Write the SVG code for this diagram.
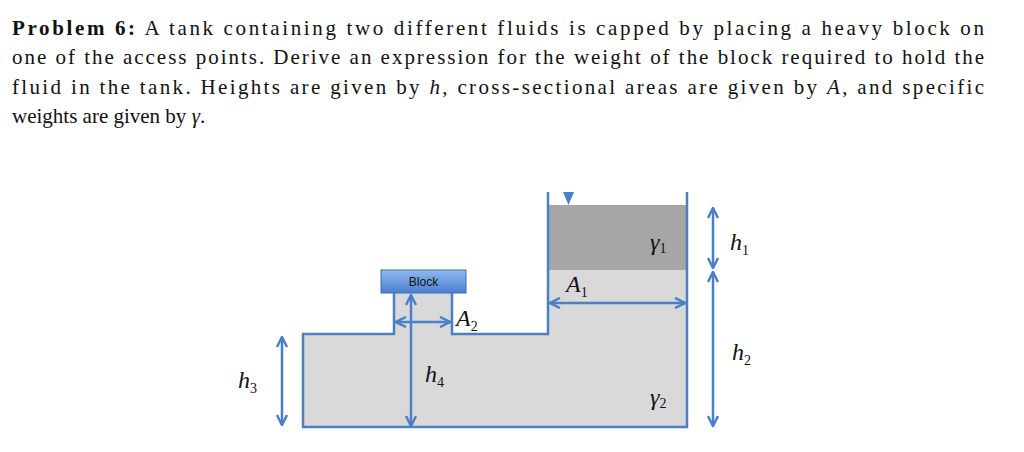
<svg xmlns="http://www.w3.org/2000/svg" width="1024" height="452" viewBox="0 0 1024 452">
<defs>
<linearGradient id="bg" x1="0" y1="0" x2="0" y2="1"><stop offset="0" stop-color="#8fb8ee"/><stop offset="1" stop-color="#4a7fd0"/></linearGradient>
<marker id="ah" viewBox="0 0 10 10" refX="9" refY="5" markerWidth="5" markerHeight="5" orient="auto-start-reverse"><path d="M1,1 L9,5 L1,9" fill="none" stroke="#4a80c8" stroke-width="2"/></marker>
<style>
.t{font-family:"Liberation Serif",serif;font-size:21px;fill:#111}
.m{font-family:"Liberation Serif",serif;font-style:italic;font-size:24px;fill:#111}
.s{font-size:14px;font-style:normal}
.d{stroke:#4a80c8;stroke-width:2.5;fill:none;marker-start:url(#ah);marker-end:url(#ah)}
</style>
</defs>
<rect width="1024" height="452" fill="#fff"/>
<text class="t" x="12" y="35" textLength="972" lengthAdjust="spacing"><tspan font-weight="bold">Problem 6:</tspan> A tank containing two different fluids is capped by placing a heavy block on</text>
<text class="t" x="12" y="64" textLength="972" lengthAdjust="spacing">one of the access points. Derive an expression for the weight of the block required to hold the</text>
<text class="t" x="12" y="94" textLength="972" lengthAdjust="spacing">fluid in the tank. Heights are given by <tspan font-style="italic">h</tspan>, cross-sectional areas are given by <tspan font-style="italic">A</tspan>, and specific</text>
<text class="t" x="12" y="123">weights are given by <tspan font-style="italic">γ</tspan>.</text>
<g id="tank">
<path d="M303,334 H394 V293 H452 V334 H548 V205 H687 V427 H303 Z" fill="#d9d9d9"/>
<rect x="548" y="205" width="139" height="65" fill="#a6a6a6"/>
<path d="M548,192 V334 H452 V293 M394,293 V334 H303 V427 H687 V192" fill="none" stroke="#4a80c8" stroke-width="2.5"/>
<path d="M563,192 H574 L568.5,205 Z" fill="#4a80c8"/>
</g>
<g id="block">
<rect x="381" y="270" width="85" height="23" fill="url(#bg)" stroke="#3a6fb8" stroke-width="1"/>
<text x="423.5" y="286" text-anchor="middle" font-family="Liberation Sans,sans-serif" font-size="12" fill="#111">Block</text>
</g>
<g id="connectors">
<line class="d" x1="713" y1="208" x2="713" y2="268"/>
<line class="d" x1="713" y1="272" x2="713" y2="426"/>
<line class="d" x1="282" y1="337" x2="282" y2="425"/>
<line class="d" x1="411" y1="295" x2="411" y2="426"/>
<line class="d" x1="396" y1="322" x2="450" y2="322"/>
<line class="d" x1="550" y1="303" x2="685" y2="303"/>
</g>
<g id="labels">
<text class="m" x="650" y="250">γ<tspan class="s" dy="3">1</tspan></text>
<text class="m" x="730" y="250">h<tspan class="s" dy="5">1</tspan></text>
<text class="m" x="566" y="292">A<tspan class="s" dy="5">1</tspan></text>
<text class="m" x="456" y="326">A<tspan class="s" dy="5">2</tspan></text>
<text class="m" x="732" y="360">h<tspan class="s" dy="5">2</tspan></text>
<text class="m" x="425" y="382">h<tspan class="s" dy="5">4</tspan></text>
<text class="m" x="238" y="388">h<tspan class="s" dy="5">3</tspan></text>
<text class="m" x="650" y="405">γ<tspan class="s" dy="3">2</tspan></text>
</g>
</svg>
